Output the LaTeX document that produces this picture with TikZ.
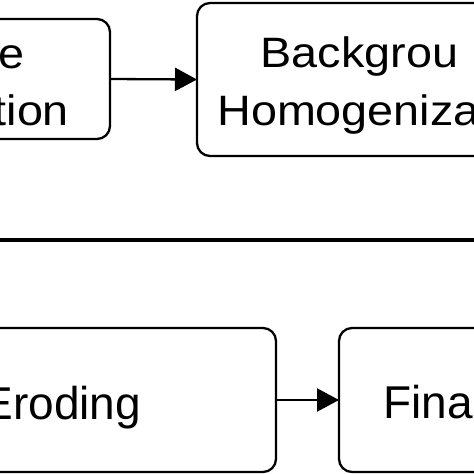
\documentclass[tikz,border=0pt]{standalone}
\usepackage{fontspec}
\setmainfont{Liberation Sans}
\newfontfamily\widesans[FakeStretch=1.1]{Liberation Sans}
\usetikzlibrary{arrows.meta}
\tikzset{
  box/.style={draw, line width=2.3pt, rounded corners=13pt, inner sep=0pt, outer sep=0pt},
  flow/.style={line width=2.3pt, -{Triangle[length=22pt, width=23pt]}},
  txt/.style={inner sep=0pt, outer sep=0pt}
}
\begin{document}
\begin{tikzpicture}[x=1pt, y=-1pt]
\useasboundingbox (0,0) rectangle (474,474);
\clip (0,0) rectangle (474,474);
\coordinate (Sl) at (-20,240);
\coordinate (Sr) at (494,240);

\node[box, minimum width=260pt, minimum height=120pt] (acq) at (-20,79) {};
\node[box, minimum width=363pt, minimum height=153pt] (homog) at (378.5,79.5) {};
\node[box, minimum width=426pt, minimum height=144pt] (erode) at (63,400) {};
\node[box, minimum width=221pt, minimum height=144pt] (final) at (449.5,400) {};

\draw[flow] (acq.east) -- (homog.west);
\draw[flow] (erode.east) -- (final.west);
\draw[line width=3.5pt] (Sl) -- (Sr);

\begin{scope}[font=\widesans\fontsize{42.5}{50}\selectfont]
\node[txt, anchor=base east] at (24.7,68) {e};
\node[txt, anchor=base east] at (69,125) {tion};
\node[txt, anchor=base west] at (260.6,67) {Backgrou};
\node[txt, anchor=base west] at (217.3,125) {Homogeniza};
\end{scope}
\begin{scope}[font=\fontsize{46}{54}\selectfont]
\node[txt, anchor=base east] at (141,419) {Eroding};
\node[txt, anchor=base west] at (383.3,418) {Fina};
\end{scope}
\end{tikzpicture}
\end{document}
